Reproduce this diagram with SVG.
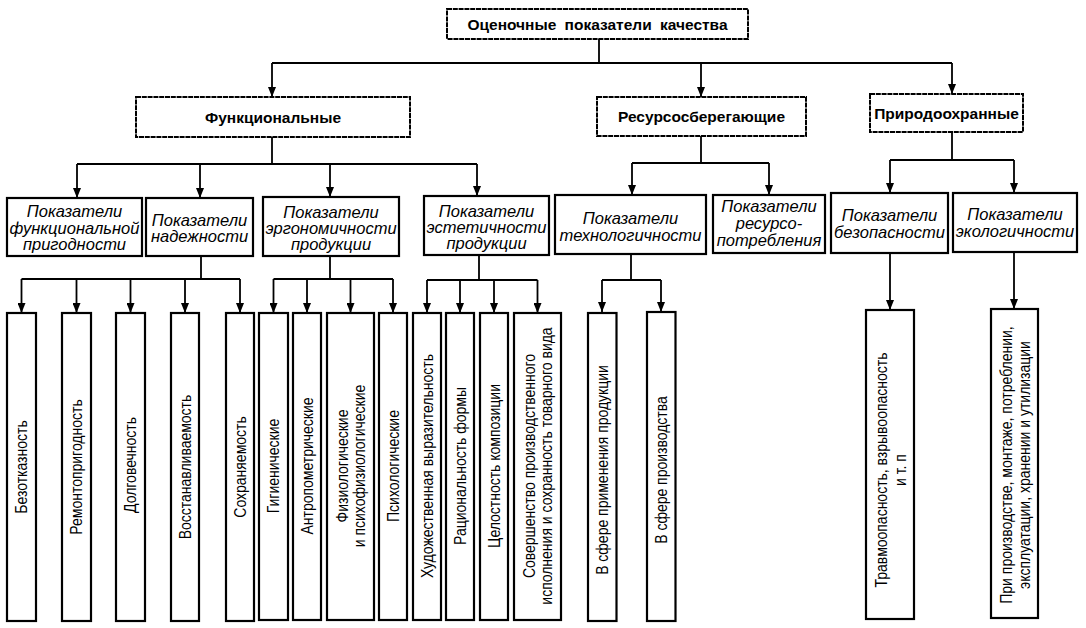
<svg xmlns="http://www.w3.org/2000/svg" width="1086" height="628" viewBox="0 0 1086 628">
<style>
.box{fill:#fff;stroke:#000;stroke-width:2.2}
.boxd{fill:#fff;stroke:#000;stroke-width:2;stroke-dasharray:5 0.8}
.conn{fill:none;stroke:#000;stroke-width:1.8}
.arr{fill:none;stroke:#000;stroke-width:1.8;marker-end:url(#ah)}
.t1{font-family:"Liberation Sans",Arial,sans-serif;font-weight:bold;font-size:15.5px;text-anchor:middle;fill:#000}
.t3{font-family:"Liberation Sans",Arial,sans-serif;font-style:italic;font-size:16.5px;text-anchor:middle;fill:#000}
.t4{font-family:"Liberation Sans",Arial,sans-serif;font-size:16px;text-anchor:middle;dominant-baseline:central;fill:#000}
</style>
<defs>
<marker id="ah" viewBox="0 0 10 8" refX="10" refY="4" markerWidth="10" markerHeight="8" markerUnits="userSpaceOnUse" orient="auto">
<path d="M0,0 L10,4 L0,8 z" fill="#000"/>
</marker>
</defs>
<rect width="1086" height="628" fill="#fff"/>

<g id="connectors">
<path class="conn" d="M599,39 V63 M272,63 H952"/>
<path class="arr" d="M272,63 V97"/>
<path class="arr" d="M701,63 V97"/>
<path class="arr" d="M952,63 V94"/>
<path class="conn" d="M272,137 V164 M77,164 H477"/>
<path class="arr" d="M77,164 V198"/>
<path class="arr" d="M200,164 V198"/>
<path class="arr" d="M330,164 V197"/>
<path class="arr" d="M477,164 V196"/>
<path class="conn" d="M701,136 V163 M632,163 H769"/>
<path class="arr" d="M632,163 V195"/>
<path class="arr" d="M769,163 V195"/>
<path class="conn" d="M952,132 V160 M890,160 H1014"/>
<path class="arr" d="M890,160 V193"/>
<path class="arr" d="M1014,160 V193"/>
<path class="conn" d="M201,256 V279 M21.5,279 H240"/>
<path class="arr" d="M21.5,279 V313"/>
<path class="arr" d="M76.5,279 V313"/>
<path class="arr" d="M130.5,279 V313"/>
<path class="arr" d="M185,279 V313"/>
<path class="arr" d="M240,279 V313"/>
<path class="conn" d="M330,256 V279 M273.5,279 H393"/>
<path class="arr" d="M273.5,279 V313"/>
<path class="arr" d="M307,279 V313"/>
<path class="arr" d="M350.5,279 V313"/>
<path class="arr" d="M393,279 V313"/>
<path class="conn" d="M479,255 V280 M427,280 H537.5"/>
<path class="arr" d="M427,280 V313"/>
<path class="arr" d="M460,280 V313"/>
<path class="arr" d="M494,280 V313"/>
<path class="arr" d="M537.5,280 V313"/>
<path class="conn" d="M631,254 V280 M602,280 H661"/>
<path class="arr" d="M602,280 V312"/>
<path class="arr" d="M661,280 V312"/>
<path class="arr" d="M890,253 V310"/>
<path class="arr" d="M1014,252 V309"/>
</g>

<g id="n-root">
<rect class="boxd" x="447" y="9" width="301" height="30"/>
<text class="t1" x="597.5" y="29.5" word-spacing="4">Оценочные показатели качества</text>
</g>

<g id="n-func">
<rect class="boxd" x="136" y="97" width="274" height="40"/>
<text class="t1" x="273" y="122.5">Функциональные</text>
</g>
<g id="n-res">
<rect class="boxd" x="597" y="97" width="209" height="39"/>
<text class="t1" x="701.5" y="122">Ресурсосберегающие</text>
</g>
<g id="n-prir">
<rect class="boxd" x="870" y="94" width="153" height="38"/>
<text class="t1" x="946.5" y="118.5">Природоохранные</text>
</g>

<g id="n-fp">
<rect class="box" x="7" y="198" width="135" height="58"/>
<text class="t3" x="74.5" y="217">Показатели</text>
<text class="t3" x="74.5" y="233.5">функциональной</text>
<text class="t3" x="74.5" y="250">пригодности</text>
</g>
<g id="n-nad">
<rect class="box" x="146" y="198" width="107" height="58"/>
<text class="t3" x="199.5" y="225.5">Показатели</text>
<text class="t3" x="199.5" y="242">надежности</text>
</g>
<g id="n-erg">
<rect class="box" x="263" y="197" width="136" height="59"/>
<text class="t3" x="331" y="217.5">Показатели</text>
<text class="t3" x="331" y="233.5">эргономичности</text>
<text class="t3" x="331" y="249.5">продукции</text>
</g>
<g id="n-est">
<rect class="box" x="424" y="196" width="125" height="59"/>
<text class="t3" x="486.5" y="216.5">Показатели</text>
<text class="t3" x="486.5" y="232.5">эстетичности</text>
<text class="t3" x="486.5" y="248.5">продукции</text>
</g>
<g id="n-tech">
<rect class="box" x="555" y="195" width="151" height="59"/>
<text class="t3" x="630.5" y="224">Показатели</text>
<text class="t3" x="630.5" y="240.5">технологичности</text>
</g>
<g id="n-rp">
<rect class="box" x="713" y="195" width="112" height="58"/>
<text class="t3" x="769" y="211.5">Показатели</text>
<text class="t3" x="769" y="228.5">ресурсо-</text>
<text class="t3" x="769" y="245.5">потребления</text>
</g>
<g id="n-bez">
<rect class="box" x="831" y="193" width="117" height="60"/>
<text class="t3" x="889.5" y="221">Показатели</text>
<text class="t3" x="889.5" y="238">безопасности</text>
</g>
<g id="n-eko">
<rect class="box" x="953" y="193" width="124" height="59"/>
<text class="t3" x="1015" y="220">Показатели</text>
<text class="t3" x="1015" y="237">экологичности</text>
</g>

<g id="n-l1">
<rect class="box" x="7" y="313" width="29" height="308"/>
<text class="t4" transform="translate(21.5,467) rotate(-90) scale(0.875,1)">Безотказность</text>
</g>
<g id="n-l2">
<rect class="box" x="62" y="313" width="29" height="308"/>
<text class="t4" transform="translate(76.5,467) rotate(-90) scale(0.875,1)">Ремонтопригодность</text>
</g>
<g id="n-l3">
<rect class="box" x="116" y="313" width="29" height="308"/>
<text class="t4" transform="translate(130.5,465) rotate(-90) scale(0.875,1)">Долговечность</text>
</g>
<g id="n-l4">
<rect class="box" x="171" y="313" width="28" height="308"/>
<text class="t4" transform="translate(185,467) rotate(-90) scale(0.875,1)">Восстанавливаемость</text>
</g>
<g id="n-l5">
<rect class="box" x="226" y="313" width="28" height="308"/>
<text class="t4" transform="translate(240,467) rotate(-90) scale(0.875,1)">Сохраняемость</text>
</g>
<g id="n-l6">
<rect class="box" x="259" y="313" width="29" height="307"/>
<text class="t4" transform="translate(273.5,466) rotate(-90) scale(0.875,1)">Гигиенические</text>
</g>
<g id="n-l7">
<rect class="box" x="293" y="313" width="28" height="307"/>
<text class="t4" transform="translate(307,466) rotate(-90) scale(0.875,1)">Антропометрические</text>
</g>
<g id="n-l8">
<rect class="box" x="327" y="313" width="47" height="307"/>
<text class="t4" transform="translate(342.5,466) rotate(-90) scale(0.875,1)">Физиологические</text>
<text class="t4" transform="translate(359.5,466) rotate(-90) scale(0.875,1)">и психофизиологические</text>
</g>
<g id="n-l9">
<rect class="box" x="379" y="313" width="28" height="307"/>
<text class="t4" transform="translate(393,466) rotate(-90) scale(0.875,1)">Психологические</text>
</g>
<g id="n-l10">
<rect class="box" x="413" y="313" width="28" height="307"/>
<text class="t4" transform="translate(427,466) rotate(-90) scale(0.875,1)">Художественная выразительность</text>
</g>
<g id="n-l11">
<rect class="box" x="446" y="313" width="28" height="307"/>
<text class="t4" transform="translate(460,466) rotate(-90) scale(0.875,1)">Рациональность формы</text>
</g>
<g id="n-l12">
<rect class="box" x="480" y="313" width="28" height="307"/>
<text class="t4" transform="translate(494,466) rotate(-90) scale(0.875,1)">Целостность композиции</text>
</g>
<g id="n-l13">
<rect class="box" x="514" y="313" width="47" height="307"/>
<text class="t4" transform="translate(529,466) rotate(-90) scale(0.875,1)">Совершенство производственного</text>
<text class="t4" transform="translate(546,466) rotate(-90) scale(0.875,1)">исполнения и сохранность товарного вида</text>
</g>
<g id="n-l14">
<rect class="box" x="588" y="313" width="28.5" height="308"/>
<text class="t4" transform="translate(602,470) rotate(-90) scale(0.875,1)">В сфере применения продукции</text>
</g>
<g id="n-l15">
<rect class="box" x="647" y="312" width="28.5" height="309"/>
<text class="t4" transform="translate(661,470) rotate(-90) scale(0.875,1)">В сфере производства</text>
</g>
<g id="n-l16">
<rect class="box" x="866" y="310" width="48" height="309"/>
<text class="t4" transform="translate(881,470) rotate(-90) scale(0.875,1)">Травмоопасность, взрывоопасность</text>
<text class="t4" transform="translate(900,470) rotate(-90) scale(0.875,1)">и т. п</text>
</g>
<g id="n-l17">
<rect class="box" x="991" y="309" width="47" height="309"/>
<text class="t4" transform="translate(1006,465) rotate(-90) scale(0.875,1)">При производстве, монтаже, потреблении,</text>
<text class="t4" transform="translate(1024,465) rotate(-90) scale(0.875,1)">эксплуатации, хранении и утилизации</text>
</g>
</svg>
